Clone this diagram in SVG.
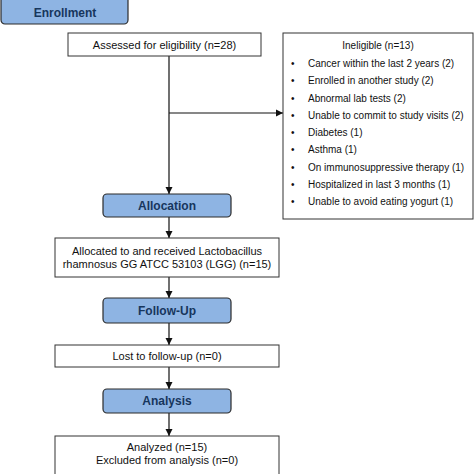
<svg xmlns="http://www.w3.org/2000/svg" width="474" height="474" viewBox="0 0 474 474">
<defs>
<style>
.stage{fill:#8eb4e3;stroke:#2b2b2b;stroke-width:1.2}
.stage-t{font-family:"Liberation Sans",Arial,sans-serif;font-weight:bold;font-size:12px;fill:#17365d;text-anchor:middle}
.box{fill:#ffffff;stroke:#333333;stroke-width:1}
.t{font-family:"Liberation Sans",Arial,sans-serif;font-size:11px;fill:#111111}
.s{font-size:10px}
.c{text-anchor:middle}
.ln{stroke:#111111;stroke-width:1.2;fill:none}
</style>
<marker id="ah" markerWidth="8" markerHeight="8" refX="7" refY="4" orient="auto" markerUnits="userSpaceOnUse">
<path d="M0,0.5 L7,4 L0,7.5 Z" fill="#111111"/>
</marker>
</defs>
<rect width="474" height="474" fill="#ffffff"/>
<g id="connectors">
<path class="ln" d="M169,56 V194" marker-end="url(#ah)"/>
<path class="ln" d="M169,113 H283" marker-end="url(#ah)"/>
<path class="ln" d="M169,217 V238" marker-end="url(#ah)"/>
<path class="ln" d="M169,277 V298" marker-end="url(#ah)"/>
<path class="ln" d="M169,323 V345" marker-end="url(#ah)"/>
<path class="ln" d="M169,367 V389" marker-end="url(#ah)"/>
<path class="ln" d="M169,413 V436" marker-end="url(#ah)"/>
</g>
<g id="enrollment">
<rect class="stage" x="1" y="-6" width="127" height="30" rx="4"/>
<text class="stage-t" x="65" y="16.5">Enrollment</text>
</g>
<g id="assessed">
<rect class="box" x="68" y="33" width="193" height="23"/>
<text class="t c" x="164.5" y="48.5">Assessed for eligibility (n=28)</text>
</g>
<g id="ineligible">
<rect class="box" x="283" y="33" width="190" height="186"/>
<text class="t s c" x="378" y="48.5">Ineligible (n=13)</text>
<g class="t s">
<text x="291" y="66.5">•</text><text x="308" y="66.5">Cancer within the last 2 years (2)</text>
<text x="291" y="84">•</text><text x="308" y="84">Enrolled in another study (2)</text>
<text x="291" y="101.5">•</text><text x="308" y="101.5">Abnormal lab tests (2)</text>
<text x="291" y="118.5">•</text><text x="308" y="118.5">Unable to commit to study visits (2)</text>
<text x="291" y="136">•</text><text x="308" y="136">Diabetes (1)</text>
<text x="291" y="153">•</text><text x="308" y="153">Asthma (1)</text>
<text x="291" y="170.5">•</text><text x="308" y="170.5">On immunosuppressive therapy (1)</text>
<text x="291" y="187.5">•</text><text x="308" y="187.5">Hospitalized in last 3 months (1)</text>
<text x="291" y="205">•</text><text x="308" y="205">Unable to avoid eating yogurt (1)</text>
</g>
</g>
<g id="allocation">
<rect class="stage" x="103" y="194" width="128" height="23" rx="4"/>
<text class="stage-t" x="167" y="210">Allocation</text>
</g>
<g id="allocated">
<rect class="box" x="55" y="238" width="224" height="39"/>
<text class="t c" x="167" y="255">Allocated to and received Lactobacillus</text>
<text class="t c" x="167" y="268">rhamnosus GG ATCC 53103 (LGG) (n=15)</text>
</g>
<g id="followup">
<rect class="stage" x="103" y="298" width="128" height="25" rx="4"/>
<text class="stage-t" x="167" y="315">Follow-Up</text>
</g>
<g id="lost">
<rect class="box" x="55" y="345" width="224" height="22"/>
<text class="t c" x="167" y="360">Lost to follow-up (n=0)</text>
</g>
<g id="analysis">
<rect class="stage" x="103" y="389" width="128" height="24" rx="4"/>
<text class="stage-t" x="167" y="405">Analysis</text>
</g>
<g id="analyzed">
<rect class="box" x="55" y="436" width="224" height="44"/>
<text class="t c" x="167" y="451">Analyzed (n=15)</text>
<text class="t c" x="167" y="464">Excluded from analysis (n=0)</text>
</g>
</svg>
